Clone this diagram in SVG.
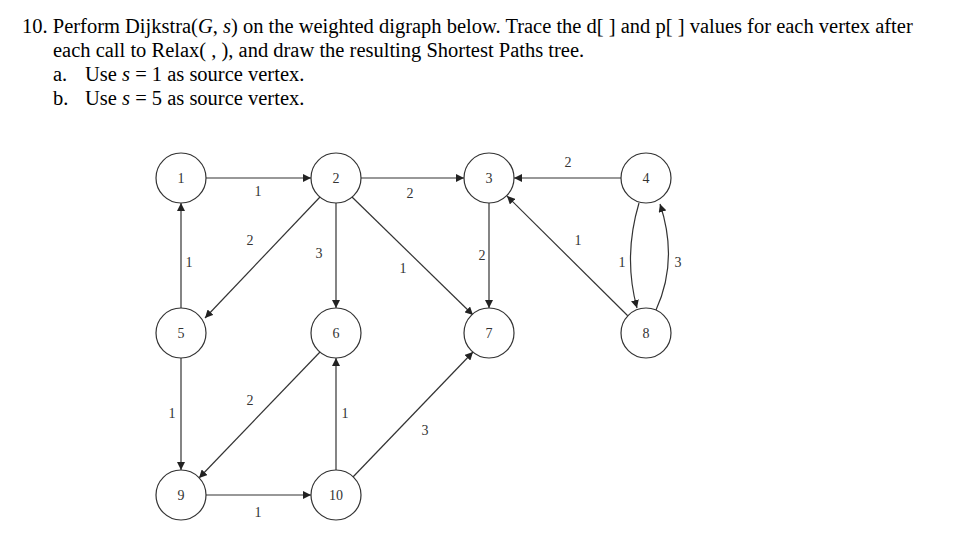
<svg xmlns="http://www.w3.org/2000/svg" width="956" height="552" viewBox="0 0 956 552">
<style>
.t{font-family:"Liberation Serif",serif;font-size:20.5px;fill:#000}
.m{font-style:italic}
.n circle{fill:#fff;stroke:#333;stroke-width:1.2}
.n text,.w{font-family:"Liberation Serif",serif;font-size:14px;fill:#333;text-anchor:middle}
.e{stroke:#333;stroke-width:1.2;fill:none;marker-end:url(#a)}
</style>
<defs><marker id="a" viewBox="0 0 10 10" refX="10" refY="5" markerWidth="8" markerHeight="8" markerUnits="userSpaceOnUse" orient="auto"><path d="M0,0L10,5L0,10z" fill="#222"/></marker></defs>
<rect width="956" height="552" fill="#fff"/>
<text class="t" x="22" y="33">10. Perform Dijkstra(<tspan class="m">G</tspan>, <tspan class="m">s</tspan>) on the weighted digraph below.  Trace the d[ ] and p[ ] values for each vertex after</text>
<text class="t" x="53" y="57">each call to Relax( , ), and draw the resulting Shortest Paths tree.</text>
<text class="t" x="53" y="81">a.</text><text class="t" x="85" y="81">Use <tspan class="m">s</tspan> = 1 as source vertex.</text>
<text class="t" x="53" y="105">b.</text><text class="t" x="85" y="105">Use <tspan class="m">s</tspan> = 5 as source vertex.</text>
<g id="connectors">
<path class="e" d="M206,178H311"/>
<path class="e" d="M361,178H464"/>
<path class="e" d="M621,178H514"/>
<path class="e" d="M181,308V203"/>
<path class="e" d="M320,197L205,318"/>
<path class="e" d="M336,203V308"/>
<path class="e" d="M352,197L473,315"/>
<path class="e" d="M489,203V308"/>
<path class="e" d="M628,316L507,196"/>
<path class="e" d="M639,203C628,240 628,275 637,308"/>
<path class="e" d="M656,310C672,275 672,240 660,204"/>
<path class="e" d="M181,358V470"/>
<path class="e" d="M320,352L199,478"/>
<path class="e" d="M336,470V358"/>
<path class="e" d="M352,478L473,352"/>
<path class="e" d="M206,495H311"/>
<text class="w" x="258" y="196">1</text>
<text class="w" x="410" y="198">2</text>
<text class="w" x="568" y="167">2</text>
<text class="w" x="189" y="267">1</text>
<text class="w" x="250" y="245">2</text>
<text class="w" x="319" y="258">3</text>
<text class="w" x="403" y="273">1</text>
<text class="w" x="482" y="260">2</text>
<text class="w" x="578" y="245">1</text>
<text class="w" x="622" y="267">1</text>
<text class="w" x="678" y="267">3</text>
<text class="w" x="172" y="418">1</text>
<text class="w" x="250" y="405">2</text>
<text class="w" x="345" y="418">1</text>
<text class="w" x="425" y="435">3</text>
<text class="w" x="258" y="517">1</text>
</g>
<g id="n1" class="n"><circle cx="181" cy="178" r="25"/><text x="181" y="183">1</text></g>
<g id="n2" class="n"><circle cx="336" cy="178" r="25"/><text x="336" y="183">2</text></g>
<g id="n3" class="n"><circle cx="489" cy="178" r="25"/><text x="489" y="183">3</text></g>
<g id="n4" class="n"><circle cx="646" cy="178" r="25"/><text x="646" y="183">4</text></g>
<g id="n5" class="n"><circle cx="181" cy="333" r="25"/><text x="181" y="338">5</text></g>
<g id="n6" class="n"><circle cx="336" cy="333" r="25"/><text x="336" y="338">6</text></g>
<g id="n7" class="n"><circle cx="489" cy="333" r="25"/><text x="489" y="338">7</text></g>
<g id="n8" class="n"><circle cx="646" cy="333" r="25"/><text x="646" y="338">8</text></g>
<g id="n9" class="n"><circle cx="181" cy="495" r="25"/><text x="181" y="500">9</text></g>
<g id="n10" class="n"><circle cx="336" cy="495" r="25"/><text x="336" y="500">10</text></g>
</svg>
